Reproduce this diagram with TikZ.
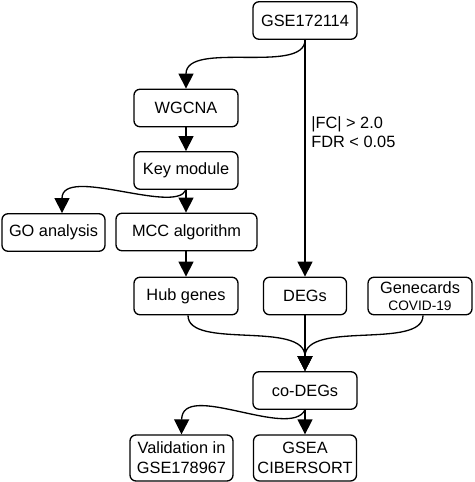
\documentclass[tikz,border=0pt]{standalone}
\usepackage{fontspec}
\setmainfont{Liberation Sans}
\usetikzlibrary{arrows.meta}
\begin{document}
\begin{tikzpicture}[x=0.02cm, y=-0.02cm,
  box/.style={draw, line width=0.75pt, rounded corners=0.12cm, minimum width=2.08cm,
    minimum height=0.75cm, inner sep=0pt, align=center, font=\fontsize{9.3}{11.4}\selectfont},
  link/.style={line width=0.75pt, -{Triangle[length=0.3cm,width=0.3cm]}}]
  \useasboundingbox (0,0) rectangle (474,482);
  \node[box] (gse) at (305,20.5) {GSE172114};
  \node[box] (wgcna) at (186,108) {WGCNA};
  \node[box] (key) at (186,170.5) {Key module};
  \node[box, minimum width=2.06cm] (go) at (53.5,232.5) {GO analysis};
  \node[box, minimum width=2.82cm] (mcc) at (186.5,232) {MCC algorithm};
  \node[box] (hub) at (186,296) {Hub genes};
  \node[box, minimum width=1.66cm] (degs) at (305,296) {DEGs};
  \node[box] (gene) at (420,296) {Genecards\\[-2pt]{\fontsize{7.8}{9}\selectfont COVID-19}};
  \node[box] (codegs) at (305,390.5) {co-DEGs};
  \node[box, minimum width=2.06cm, minimum height=0.92cm] (valid) at (181.5,458) {Validation in\\GSE178967};
  \node[box, minimum width=2.06cm, minimum height=0.92cm] (gsea) at (305,458) {GSEA\\CIBERSORT};
  \node[anchor=west, align=left, inner sep=0pt, font=\fontsize{9.3}{11}\selectfont] (crit) at (311,132) {|FC| > 2.0\\FDR < 0.05};
  \draw[link] (gse.south) .. controls (305,75) and (186,40) .. (wgcna.north);
  \draw[link] (gse.south) -- (degs.north);
  \draw[link] (wgcna.south) -- (key.north);
  \draw[link] (key.south) -- (key.south |- mcc.north);
  \draw[link] (key.south) .. controls (175,215) and (62,165) .. ([xshift=0.17cm]go.north);
  \draw[link] (mcc.south -| hub.north) -- (hub.north);
  \draw[link] ([xshift=0.04cm]hub.south) .. controls (188,350) and (305,320) .. (codegs.north);
  \draw[link] ([xshift=0.06cm]gene.south) .. controls (423,350) and (305,320) .. (codegs.north);
  \draw[link] (degs.south) -- (codegs.north);
  \draw[link] (codegs.south) -- (gsea.north);
  \draw[link] (codegs.south) .. controls (290,440) and (182,380) .. (valid.north);
\end{tikzpicture}
\end{document}
